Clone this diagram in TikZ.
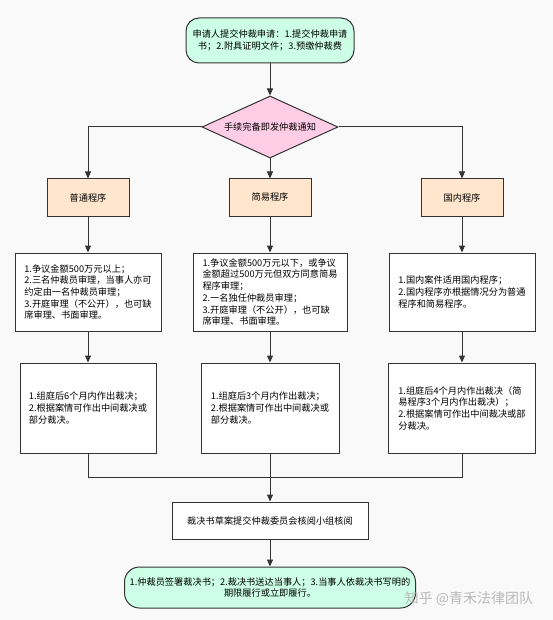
\documentclass[tikz,border=0pt]{standalone}
\usepackage{fontspec}
\setmainfont{Noto Sans CJK SC}
\usetikzlibrary{positioning, arrows.meta, shapes.geometric}

\definecolor{linegray}{HTML}{333333}
\definecolor{pagegray}{HTML}{F9F9F9}
\definecolor{mintfill}{HTML}{CCFFE6}
\definecolor{pinkfill}{HTML}{FFCCE6}
\definecolor{orangefill}{HTML}{FFE6CC}

\tikzset{
    endbox/.style={draw=linegray, fill=mintfill, rounded corners=13pt, align=center},
    checkbox/.style={draw=linegray, fill=pinkfill, diamond, aspect=2.2, inner sep=1pt},
    procbox/.style={draw=linegray, fill=orangefill, minimum width=82pt, minimum height=37pt},
    infobox/.style={draw=linegray, fill=white, align=left}
}

\begin{document}
\begin{tikzpicture}[
        node distance=20pt,
        every node/.style={line width=1pt, font=\fontsize{9.2pt}{11.7pt}\selectfont},
        >={Triangle[length=7pt, width=6pt]}
    ]

    \fill[pagegray] (0,0) rectangle (553pt,-620pt);
    \useasboundingbox (0,0) rectangle (553pt,-620pt);

    \node[endbox, minimum width=168pt, minimum height=45pt] (apply) at (270pt,-40.5pt)
        {申请人提交仲裁申请：1.提交仲裁申请\\书；2.附具证明文件；3.预缴仲裁费};
    \node[checkbox, minimum width=136pt, minimum height=62pt] (notice) [below=32pt of apply] {手续完备即发仲裁通知};

    \node[procbox] (simple) [below=20pt of notice] {简易程序};
    \node[procbox] (general) [left=99pt of simple] {普通程序};
    \node[procbox] (domestic) [right=109pt of simple] {国内程序};

    % trial rules
    \node[infobox, minimum width=146pt, minimum height=78pt] (generalrule) [below=36pt of general]
        {1.争议金额500万元以上；\\2.三名仲裁员审理，当事人亦可\\约定由一名仲裁员审理；\\3.开庭审理（不公开），也可缺\\席审理、书面审理。};
    \node[infobox, minimum width=154pt, minimum height=78pt] (simplerule) [below=36pt of simple]
        {1.争议金额500万元以下，或争议\\金额超过500万元但双方同意简易\\程序审理；\\2.一名独任仲裁员审理；\\3.开庭审理（不公开），也可缺\\席审理、书面审理。};
    \node[infobox, minimum width=146pt, minimum height=78pt] (domesticrule) [below=36pt of domestic]
        {1.国内案件适用国内程序；\\2.国内程序亦根据情况分为普通\\程序和简易程序。};

    % award deadlines
    \node[infobox, minimum width=136pt, minimum height=90pt] (generaltime) [below=31pt of generalrule]
        {1.组庭后6个月内作出裁决；\\2.根据案情可作出中间裁决或\\部分裁决。};
    \node[infobox, minimum width=138pt, minimum height=90pt] (simpletime) [below=31pt of simplerule]
        {1.组庭后3个月内作出裁决；\\2.根据案情可作出中间裁决或\\部分裁决。};
    \node[infobox, minimum width=147pt, minimum height=90pt] (domestictime) [below=31pt of domesticrule]
        {1.组庭后4个月内作出裁决（简\\易程序3个月内作出裁决）；\\2.根据案情可作出中间裁决或部\\分裁决。};

    \node[infobox, minimum width=196pt, minimum height=37pt] (review) [below=48pt of simpletime]
        {裁决书草案提交仲裁委员会核阅小组核阅};
    \node[endbox, minimum width=291pt, minimum height=41pt, rounded corners=15pt] (award) [below=27pt of review]
        {1.仲裁员签署裁决书；2.裁决书送达当事人；3.当事人依裁决书写明的\\期限履行或立即履行。};

    \node[text=gray!55, font=\fontsize{14pt}{16pt}\selectfont] (watermark) at (469pt,-599pt) {知乎 @青禾法律团队};

    \coordinate[above=24pt of review.north] (join);

    \draw[->, linegray, line width=1pt] (apply) -- (notice);
    \draw[->, linegray, line width=1pt] (notice) -- (simple);
    \draw[->, linegray, line width=1pt] (notice.west) -| (general);
    \draw[->, linegray, line width=1pt] (notice.east) -| (domestic);
    \draw[->, linegray, line width=1pt] (general) -- (generalrule);
    \draw[->, linegray, line width=1pt] (simple) -- (simplerule);
    \draw[->, linegray, line width=1pt] (domestic) -- (domesticrule);
    \draw[->, linegray, line width=1pt] (generalrule) -- (generaltime);
    \draw[->, linegray, line width=1pt] (simplerule) -- (simpletime);
    \draw[->, linegray, line width=1pt] (domesticrule) -- (domestictime);
    \draw[linegray, line width=1pt] (generaltime.south) |- (join);
    \draw[linegray, line width=1pt] (domestictime.south) |- (join);
    \draw[->, linegray, line width=1pt] (simpletime) -- (review);
    \draw[->, linegray, line width=1pt] (review) -- (award);

\end{tikzpicture}
\end{document}
